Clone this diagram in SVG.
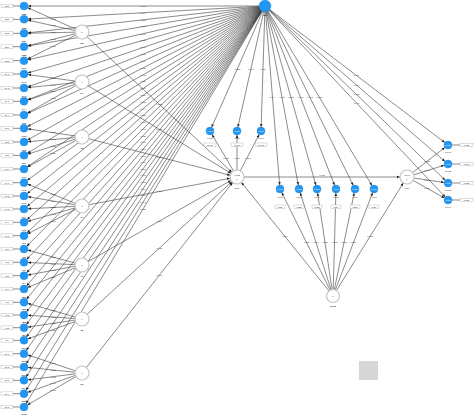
<svg xmlns="http://www.w3.org/2000/svg" width="474" height="417" viewBox="0 0 474 417">
<style>
.ln{stroke:#3c3c3c;stroke-width:0.6;fill:none}
.ind{fill:#2196f3;stroke:#1a7fd6;stroke-width:0.3}
.lat{fill:#fff;stroke:#c4c4c4;stroke-width:1.2}
.box{fill:#fff;stroke:#9e9e9e;stroke-width:0.35}
.t{font-family:"Liberation Sans",Arial,sans-serif;font-size:2.3px;fill:#333;text-anchor:middle}
.b{font-weight:bold}
.w{fill:#fff}
</style>
<defs>
<marker id="a4" markerUnits="userSpaceOnUse" markerWidth="6" markerHeight="6" refX="4" refY="0" orient="auto" overflow="visible"><path d="M-3,-1.3L0,0L-3,1.3z" fill="#222"/></marker>
<marker id="a7" markerUnits="userSpaceOnUse" markerWidth="6" markerHeight="6" refX="7" refY="0" orient="auto" overflow="visible"><path d="M-3,-1.3L0,0L-3,1.3z" fill="#222"/></marker>
</defs>
<rect width="474" height="417" fill="#fff"/>
<g id="connectors">
<g marker-end="url(#a4)" class="ln">
<line x1="265" y1="6" x2="24" y2="6"/>
<line x1="265" y1="6" x2="24" y2="19.3"/>
<line x1="265" y1="6" x2="24" y2="33.3"/>
<line x1="265" y1="6" x2="24" y2="46.7"/>
<line x1="265" y1="6" x2="24" y2="60.7"/>
<line x1="265" y1="6" x2="24" y2="74"/>
<line x1="265" y1="6" x2="24" y2="88"/>
<line x1="265" y1="6" x2="24" y2="101.3"/>
<line x1="265" y1="6" x2="24" y2="115"/>
<line x1="265" y1="6" x2="24" y2="128.3"/>
<line x1="265" y1="6" x2="24" y2="142"/>
<line x1="265" y1="6" x2="24" y2="155.3"/>
<line x1="265" y1="6" x2="24" y2="169"/>
<line x1="265" y1="6" x2="24" y2="182.7"/>
<line x1="265" y1="6" x2="24" y2="196"/>
<line x1="265" y1="6" x2="24" y2="209"/>
<line x1="265" y1="6" x2="24" y2="222.3"/>
<line x1="265" y1="6" x2="24" y2="235.7"/>
<line x1="265" y1="6" x2="24" y2="249"/>
<line x1="265" y1="6" x2="24" y2="262.3"/>
<line x1="265" y1="6" x2="24" y2="275.7"/>
<line x1="265" y1="6" x2="24" y2="289"/>
<line x1="265" y1="6" x2="24" y2="302.3"/>
<line x1="265" y1="6" x2="24" y2="315"/>
<line x1="265" y1="6" x2="24" y2="327.7"/>
<line x1="265" y1="6" x2="24" y2="340.3"/>
<line x1="265" y1="6" x2="24" y2="353.7"/>
<line x1="265" y1="6" x2="24" y2="367"/>
<line x1="265" y1="6" x2="24" y2="380.3"/>
<line x1="265" y1="6" x2="24" y2="393.7"/>
<line x1="265" y1="6" x2="24" y2="407"/>
<line x1="82" y1="32" x2="24" y2="6"/>
<line x1="82" y1="32" x2="24" y2="19.3"/>
<line x1="82" y1="32" x2="24" y2="33.3"/>
<line x1="82" y1="32" x2="24" y2="46.7"/>
<line x1="82" y1="32" x2="24" y2="60.7"/>
<line x1="82" y1="82" x2="24" y2="74"/>
<line x1="82" y1="82" x2="24" y2="88"/>
<line x1="82" y1="82" x2="24" y2="101.3"/>
<line x1="82" y1="82" x2="24" y2="115"/>
<line x1="82" y1="137" x2="24" y2="128.3"/>
<line x1="82" y1="137" x2="24" y2="142"/>
<line x1="82" y1="137" x2="24" y2="155.3"/>
<line x1="82" y1="137" x2="24" y2="169"/>
<line x1="82" y1="206" x2="24" y2="182.7"/>
<line x1="82" y1="206" x2="24" y2="196"/>
<line x1="82" y1="206" x2="24" y2="209"/>
<line x1="82" y1="206" x2="24" y2="222.3"/>
<line x1="82" y1="206" x2="24" y2="235.7"/>
<line x1="82" y1="265" x2="24" y2="249"/>
<line x1="82" y1="265" x2="24" y2="262.3"/>
<line x1="82" y1="265" x2="24" y2="275.7"/>
<line x1="82" y1="265" x2="24" y2="289"/>
<line x1="82" y1="319" x2="24" y2="302.3"/>
<line x1="82" y1="319" x2="24" y2="315"/>
<line x1="82" y1="319" x2="24" y2="327.7"/>
<line x1="82" y1="319" x2="24" y2="340.3"/>
<line x1="82" y1="373" x2="24" y2="353.7"/>
<line x1="82" y1="373" x2="24" y2="367"/>
<line x1="82" y1="373" x2="24" y2="380.3"/>
<line x1="82" y1="373" x2="24" y2="393.7"/>
<line x1="82" y1="373" x2="24" y2="407"/>
<line x1="265" y1="6" x2="210" y2="131"/>
<line x1="265" y1="6" x2="237" y2="131"/>
<line x1="265" y1="6" x2="261" y2="131"/>
<line x1="265" y1="6" x2="280" y2="189"/>
<line x1="265" y1="6" x2="299" y2="189"/>
<line x1="265" y1="6" x2="317" y2="189"/>
<line x1="265" y1="6" x2="336" y2="189"/>
<line x1="265" y1="6" x2="355" y2="189"/>
<line x1="265" y1="6" x2="374" y2="189"/>
<line x1="265" y1="6" x2="448" y2="145"/>
<line x1="265" y1="6" x2="448" y2="164"/>
<line x1="265" y1="6" x2="448" y2="183"/>
<line x1="265" y1="6" x2="448" y2="200"/>
<line x1="237" y1="177" x2="210" y2="131"/>
<line x1="237" y1="177" x2="237" y2="131"/>
<line x1="237" y1="177" x2="261" y2="131"/>
<line x1="407" y1="177" x2="448" y2="145"/>
<line x1="407" y1="177" x2="448" y2="164"/>
<line x1="407" y1="177" x2="448" y2="183"/>
<line x1="407" y1="177" x2="448" y2="200"/>
<line x1="333" y1="296" x2="280" y2="189"/>
<line x1="333" y1="296" x2="299" y2="189"/>
<line x1="333" y1="296" x2="317" y2="189"/>
<line x1="333" y1="296" x2="336" y2="189"/>
<line x1="333" y1="296" x2="355" y2="189"/>
<line x1="333" y1="296" x2="374" y2="189"/>
</g>
<g marker-end="url(#a7)" class="ln">
<line x1="82" y1="32" x2="237" y2="177"/>
<line x1="82" y1="82" x2="237" y2="177"/>
<line x1="82" y1="137" x2="237" y2="177"/>
<line x1="82" y1="206" x2="237" y2="177"/>
<line x1="82" y1="265" x2="237" y2="177"/>
<line x1="82" y1="319" x2="237" y2="177"/>
<line x1="82" y1="373" x2="237" y2="177"/>
<line x1="237" y1="177" x2="407" y2="177"/>
<line x1="333" y1="296" x2="237" y2="177"/>
<line x1="333" y1="296" x2="407" y2="177"/>
</g>
<g class="t">
<text x="143" y="6.8">0.061</text>
<text x="143" y="13.5">0.044</text>
<text x="143" y="20.6">0.052</text>
<text x="143" y="27.4">0.038</text>
<text x="143" y="34.5">0.047</text>
<text x="143" y="41.2">0.055</text>
<text x="143" y="48.3">0.041</text>
<text x="143" y="55">0.036</text>
<text x="143" y="62">0.049</text>
<text x="143" y="68.7">0.058</text>
<text x="143" y="75.6">0.043</text>
<text x="143" y="82.4">0.039</text>
<text x="143" y="89.3">0.046</text>
<text x="143" y="96.2">0.051</text>
<text x="143" y="103">0.037</text>
<text x="143" y="109.6">0.044</text>
<text x="143" y="116.3">0.053</text>
<text x="143" y="123.1">0.040</text>
<text x="143" y="129.8">0.048</text>
<text x="143" y="136.6">0.035</text>
<text x="143" y="143.3">0.042</text>
<text x="143" y="150.1">0.057</text>
<text x="143" y="156.8">0.045</text>
<text x="143" y="163.2">0.039</text>
<text x="143" y="169.6">0.050</text>
<text x="143" y="176">0.043</text>
<text x="143" y="182.8">0.036</text>
<text x="143" y="189.5">0.054</text>
<text x="143" y="196.3">0.041</text>
<text x="143" y="203.1">0.047</text>
<text x="143" y="209.8">0.038</text>
<text x="53" y="19.8">0.812</text>
<text x="53" y="26.4">0.795</text>
<text x="53" y="33.4">0.834</text>
<text x="53" y="40.1">0.801</text>
<text x="53" y="47.1">0.776</text>
<text x="53" y="78.8">0.821</text>
<text x="53" y="85.8">0.846</text>
<text x="53" y="92.4">0.809</text>
<text x="53" y="99.3">0.788</text>
<text x="53" y="133.4">0.842</text>
<text x="53" y="140.3">0.817</text>
<text x="53" y="146.9">0.803</text>
<text x="53" y="153.8">0.829</text>
<text x="53" y="195.1">0.781</text>
<text x="53" y="201.8">0.814</text>
<text x="53" y="208.3">0.837</text>
<text x="53" y="215">0.798</text>
<text x="53" y="221.6">0.806</text>
<text x="53" y="257.8">0.823</text>
<text x="53" y="264.5">0.841</text>
<text x="53" y="271.2">0.812</text>
<text x="53" y="277.8">0.794</text>
<text x="53" y="311.4">0.816</text>
<text x="53" y="317.8">0.838</text>
<text x="53" y="324.1">0.805</text>
<text x="53" y="330.5">0.787</text>
<text x="53" y="364.1">0.819</text>
<text x="53" y="370.8">0.832</text>
<text x="53" y="377.5">0.808</text>
<text x="53" y="384.2">0.796</text>
<text x="53" y="390.8">0.811</text>
<text x="159.5" y="105.3">0.162</text>
<text x="159.5" y="130.3">0.118</text>
<text x="159.5" y="157.8">0.204</text>
<text x="159.5" y="192.3">0.145</text>
<text x="159.5" y="221.8">0.097</text>
<text x="159.5" y="248.8">0.131</text>
<text x="159.5" y="275.8">0.176</text>
<text x="237.5" y="69.8">0.052</text>
<text x="251" y="69.8">0.047</text>
<text x="263" y="69.8">0.039</text>
<text x="272" y="97.8">0.044</text>
<text x="282" y="97.8">0.051</text>
<text x="291" y="97.8">0.036</text>
<text x="300.5" y="97.8">0.048</text>
<text x="310" y="97.8">0.042</text>
<text x="319.5" y="97.8">0.055</text>
<text x="356.5" y="76.3">0.041</text>
<text x="356.5" y="85.8">0.049</text>
<text x="356.5" y="95.3">0.037</text>
<text x="356.5" y="103.8">0.046</text>
<text x="226" y="159">0.873</text>
<text x="237" y="159">0.891</text>
<text x="248" y="159">0.864</text>
<text x="427" y="161.8">0.852</text>
<text x="427" y="171.3">0.879</text>
<text x="427" y="180.8">0.866</text>
<text x="427" y="189.3">0.841</text>
<text x="306.5" y="243.3">0.823</text>
<text x="316" y="243.3">0.847</text>
<text x="325" y="243.3">0.836</text>
<text x="334.5" y="243.3">0.858</text>
<text x="344" y="243.3">0.812</text>
<text x="353.5" y="243.3">0.829</text>
<text x="322" y="176.2">0.612</text>
<text x="285" y="237.3">0.214</text>
<text x="370" y="237.3">0.183</text>
</g>
</g>
<g id="nodes">
<g id="cmv"><circle class="ind" cx="265" cy="6" r="6"/><text class="t b" x="265" y="15.5">CMV</text></g>
<g id="ind-left" class="t">
<g><rect class="box" x="1" y="4.2" width="12" height="3.6"/><line class="ln" x1="13" y1="6" x2="20" y2="6"/><circle class="ind" cx="24" cy="6" r="4"/><text x="7" y="6.8">SQ1</text></g>
<g><rect class="box" x="1" y="17.5" width="12" height="3.6"/><line class="ln" x1="13" y1="19.3" x2="20" y2="19.3"/><circle class="ind" cx="24" cy="19.3" r="4"/><text x="7" y="20.1">SQ2</text><text class="b" x="24" y="14.6">SQ2</text></g>
<g><rect class="box" x="1" y="31.5" width="12" height="3.6"/><line class="ln" x1="13" y1="33.3" x2="20" y2="33.3"/><circle class="ind" cx="24" cy="33.3" r="4"/><text x="7" y="34.1">SQ3</text><text class="b" x="24" y="28.6">SQ3</text></g>
<g><rect class="box" x="1" y="44.9" width="12" height="3.6"/><line class="ln" x1="13" y1="46.7" x2="20" y2="46.7"/><circle class="ind" cx="24" cy="46.7" r="4"/><text x="7" y="47.5">SQ4</text><text class="b" x="24" y="42">SQ4</text></g>
<g><rect class="box" x="1" y="58.9" width="12" height="3.6"/><line class="ln" x1="13" y1="60.7" x2="20" y2="60.7"/><circle class="ind" cx="24" cy="60.7" r="4"/><text x="7" y="61.5">SQ5</text><text class="b" x="24" y="56">SQ5</text></g>
<g><rect class="box" x="1" y="72.2" width="12" height="3.6"/><line class="ln" x1="13" y1="74" x2="20" y2="74"/><circle class="ind" cx="24" cy="74" r="4"/><text x="7" y="74.8">SA1</text><text class="b" x="24" y="69.3">SA1</text></g>
<g><rect class="box" x="1" y="86.2" width="12" height="3.6"/><line class="ln" x1="13" y1="88" x2="20" y2="88"/><circle class="ind" cx="24" cy="88" r="4"/><text x="7" y="88.8">SA2</text><text class="b" x="24" y="83.3">SA2</text></g>
<g><rect class="box" x="1" y="99.5" width="12" height="3.6"/><line class="ln" x1="13" y1="101.3" x2="20" y2="101.3"/><circle class="ind" cx="24" cy="101.3" r="4"/><text x="7" y="102.1">SA3</text><text class="b" x="24" y="96.6">SA3</text></g>
<g><rect class="box" x="1" y="113.2" width="12" height="3.6"/><line class="ln" x1="13" y1="115" x2="20" y2="115"/><circle class="ind" cx="24" cy="115" r="4"/><text x="7" y="115.8">SA4</text><text class="b" x="24" y="110.3">SA4</text></g>
<g><rect class="box" x="1" y="126.5" width="12" height="3.6"/><line class="ln" x1="13" y1="128.3" x2="20" y2="128.3"/><circle class="ind" cx="24" cy="128.3" r="4"/><text x="7" y="129.1">TR1</text><text class="b" x="24" y="123.6">TR1</text></g>
<g><rect class="box" x="1" y="140.2" width="12" height="3.6"/><line class="ln" x1="13" y1="142" x2="20" y2="142"/><circle class="ind" cx="24" cy="142" r="4"/><text x="7" y="142.8">TR2</text><text class="b" x="24" y="137.3">TR2</text></g>
<g><rect class="box" x="1" y="153.5" width="12" height="3.6"/><line class="ln" x1="13" y1="155.3" x2="20" y2="155.3"/><circle class="ind" cx="24" cy="155.3" r="4"/><text x="7" y="156.1">TR3</text><text class="b" x="24" y="150.6">TR3</text></g>
<g><rect class="box" x="1" y="167.2" width="12" height="3.6"/><line class="ln" x1="13" y1="169" x2="20" y2="169"/><circle class="ind" cx="24" cy="169" r="4"/><text x="7" y="169.8">TR4</text><text class="b" x="24" y="164.3">TR4</text></g>
<g><rect class="box" x="1" y="180.9" width="12" height="3.6"/><line class="ln" x1="13" y1="182.7" x2="20" y2="182.7"/><circle class="ind" cx="24" cy="182.7" r="4"/><text x="7" y="183.5">PV1</text><text class="b" x="24" y="178">PV1</text></g>
<g><rect class="box" x="1" y="194.2" width="12" height="3.6"/><line class="ln" x1="13" y1="196" x2="20" y2="196"/><circle class="ind" cx="24" cy="196" r="4"/><text x="7" y="196.8">PV2</text><text class="b" x="24" y="191.3">PV2</text></g>
<g><rect class="box" x="1" y="207.2" width="12" height="3.6"/><line class="ln" x1="13" y1="209" x2="20" y2="209"/><circle class="ind" cx="24" cy="209" r="4"/><text x="7" y="209.8">PV3</text><text class="b" x="24" y="204.3">PV3</text></g>
<g><rect class="box" x="1" y="220.5" width="12" height="3.6"/><line class="ln" x1="13" y1="222.3" x2="20" y2="222.3"/><circle class="ind" cx="24" cy="222.3" r="4"/><text x="7" y="223.1">PV4</text><text class="b" x="24" y="217.6">PV4</text></g>
<g><rect class="box" x="1" y="233.9" width="12" height="3.6"/><line class="ln" x1="13" y1="235.7" x2="20" y2="235.7"/><circle class="ind" cx="24" cy="235.7" r="4"/><text x="7" y="236.5">PV5</text><text class="b" x="24" y="231">PV5</text></g>
<g><rect class="box" x="1" y="247.2" width="12" height="3.6"/><line class="ln" x1="13" y1="249" x2="20" y2="249"/><circle class="ind" cx="24" cy="249" r="4"/><text x="7" y="249.8">CI1</text><text class="b" x="24" y="244.3">CI1</text></g>
<g><rect class="box" x="1" y="260.5" width="12" height="3.6"/><line class="ln" x1="13" y1="262.3" x2="20" y2="262.3"/><circle class="ind" cx="24" cy="262.3" r="4"/><text x="7" y="263.1">CI2</text><text class="b" x="24" y="257.6">CI2</text></g>
<g><rect class="box" x="1" y="273.9" width="12" height="3.6"/><line class="ln" x1="13" y1="275.7" x2="20" y2="275.7"/><circle class="ind" cx="24" cy="275.7" r="4"/><text x="7" y="276.5">CI3</text><text class="b" x="24" y="271">CI3</text></g>
<g><rect class="box" x="1" y="287.2" width="12" height="3.6"/><line class="ln" x1="13" y1="289" x2="20" y2="289"/><circle class="ind" cx="24" cy="289" r="4"/><text x="7" y="289.8">CI4</text><text class="b" x="24" y="284.3">CI4</text></g>
<g><rect class="box" x="1" y="300.5" width="12" height="3.6"/><line class="ln" x1="13" y1="302.3" x2="20" y2="302.3"/><circle class="ind" cx="24" cy="302.3" r="4"/><text x="7" y="303.1">IM1</text><text class="b" x="24" y="297.6">IM1</text></g>
<g><rect class="box" x="1" y="313.2" width="12" height="3.6"/><line class="ln" x1="13" y1="315" x2="20" y2="315"/><circle class="ind" cx="24" cy="315" r="4"/><text x="7" y="315.8">IM2</text><text class="b" x="24" y="310.3">IM2</text></g>
<g><rect class="box" x="1" y="325.9" width="12" height="3.6"/><line class="ln" x1="13" y1="327.7" x2="20" y2="327.7"/><circle class="ind" cx="24" cy="327.7" r="4"/><text x="7" y="328.5">IM3</text><text class="b" x="24" y="323">IM3</text></g>
<g><rect class="box" x="1" y="338.5" width="12" height="3.6"/><line class="ln" x1="13" y1="340.3" x2="20" y2="340.3"/><circle class="ind" cx="24" cy="340.3" r="4"/><text x="7" y="341.1">IM4</text><text class="b" x="24" y="335.6">IM4</text></g>
<g><rect class="box" x="1" y="351.9" width="12" height="3.6"/><line class="ln" x1="13" y1="353.7" x2="20" y2="353.7"/><circle class="ind" cx="24" cy="353.7" r="4"/><text x="7" y="354.5">EX1</text><text class="b" x="24" y="349">EX1</text></g>
<g><rect class="box" x="1" y="365.2" width="12" height="3.6"/><line class="ln" x1="13" y1="367" x2="20" y2="367"/><circle class="ind" cx="24" cy="367" r="4"/><text x="7" y="367.8">EX2</text><text class="b" x="24" y="362.3">EX2</text></g>
<g><rect class="box" x="1" y="378.5" width="12" height="3.6"/><line class="ln" x1="13" y1="380.3" x2="20" y2="380.3"/><circle class="ind" cx="24" cy="380.3" r="4"/><text x="7" y="381.1">EX3</text><text class="b" x="24" y="375.6">EX3</text></g>
<g><rect class="box" x="1" y="391.9" width="12" height="3.6"/><line class="ln" x1="13" y1="393.7" x2="20" y2="393.7"/><circle class="ind" cx="24" cy="393.7" r="4"/><text x="7" y="394.5">EX4</text><text class="b" x="24" y="389">EX4</text></g>
<g><rect class="box" x="1" y="405.2" width="12" height="3.6"/><line class="ln" x1="13" y1="407" x2="20" y2="407"/><circle class="ind" cx="24" cy="407" r="4"/><text x="7" y="407.8">EX5</text><text class="b" x="24" y="402.3">EX5</text><text class="b" x="24" y="414.5">EX5</text></g>
</g>
<g id="latents-left" class="t">
<g id="SQ"><circle class="lat" cx="82" cy="32" r="7"/><text x="82" y="32.8">0</text><text class="b" x="82" y="44">SQ</text></g>
<g id="SA"><circle class="lat" cx="82" cy="82" r="7"/><text x="82" y="82.8">0</text><text class="b" x="82" y="94">SA</text></g>
<g id="TR"><circle class="lat" cx="82" cy="137" r="7"/><text x="82" y="137.8">0</text><text class="b" x="82" y="149">TR</text></g>
<g id="PV"><circle class="lat" cx="82" cy="206" r="7"/><text x="82" y="206.8">0</text><text class="b" x="82" y="218">PV</text></g>
<g id="CI"><circle class="lat" cx="82" cy="265" r="7"/><text x="82" y="265.8">0</text><text class="b" x="82" y="277">CI</text></g>
<g id="IM"><circle class="lat" cx="82" cy="319" r="7"/><text x="82" y="319.8">0</text><text class="b" x="82" y="331">IM</text></g>
<g id="EX"><circle class="lat" cx="82" cy="373" r="7"/><text x="82" y="373.8">0</text><text class="b" x="82" y="385">EX</text></g>
</g>
<g id="SAT" class="t">
<circle class="lat" cx="237" cy="177" r="7"/><text x="237" y="176">0.682</text><text x="237" y="179.5">0</text><text class="b" x="237" y="189">SAT</text>
<g><circle class="ind" cx="210" cy="131" r="4"/><text class="w" x="210" y="131.8">0.000</text><text x="210" y="139">0.124</text><rect class="box" x="204" y="143" width="12" height="3.6"/><text x="210" y="145.6">SAT1</text></g>
<g><circle class="ind" cx="237" cy="131" r="4"/><text class="w" x="237" y="131.8">0.000</text><text x="237" y="139">0.131</text><rect class="box" x="231" y="143" width="12" height="3.6"/><text x="237" y="145.6">SAT2</text></g>
<g><circle class="ind" cx="261" cy="131" r="4"/><text class="w" x="261" y="131.8">0.000</text><text x="261" y="139">0.117</text><rect class="box" x="255" y="143" width="12" height="3.6"/><text x="261" y="145.6">SAT3</text></g>
</g>
<g id="WOM" class="t">
<g><circle class="ind" cx="280" cy="189" r="4"/><text class="w" x="280" y="189.8">0.000</text><text x="280" y="198">0.108</text><rect class="box" x="275" y="205" width="10" height="3.6"/><text x="280" y="207.6">WO1</text></g>
<g><circle class="ind" cx="299" cy="189" r="4"/><text class="w" x="299" y="189.8">0.000</text><text x="299" y="198">0.112</text><rect class="box" x="294" y="205" width="10" height="3.6"/><text x="299" y="207.6">WO2</text></g>
<g><circle class="ind" cx="317" cy="189" r="4"/><text class="w" x="317" y="189.8">0.000</text><text x="317" y="198">0.109</text><rect class="box" x="312" y="205" width="10" height="3.6"/><text x="317" y="207.6">WO3</text></g>
<g><circle class="ind" cx="336" cy="189" r="4"/><text class="w" x="336" y="189.8">0.000</text><text x="336" y="198">0.115</text><rect class="box" x="331" y="205" width="10" height="3.6"/><text x="336" y="207.6">WO4</text></g>
<g><circle class="ind" cx="355" cy="189" r="4"/><text class="w" x="355" y="189.8">0.000</text><text x="355" y="198">0.106</text><rect class="box" x="350" y="205" width="10" height="3.6"/><text x="355" y="207.6">WO5</text></g>
<g><circle class="ind" cx="374" cy="189" r="4"/><text class="w" x="374" y="189.8">0.000</text><text x="374" y="198">0.111</text><rect class="box" x="369" y="205" width="10" height="3.6"/><text x="374" y="207.6">WO6</text></g>
</g>
<g id="LOY" class="t">
<circle class="lat" cx="407" cy="177" r="7"/><text x="407" y="176">0.541</text><text x="407" y="179.5">0</text><text class="b" x="407" y="189">LOY</text>
<g><circle class="ind" cx="448" cy="145" r="4"/><text class="w" x="448" y="145.8">0.000</text><text class="b" x="448" y="152.5">LOY1</text><line class="ln" x1="452" y1="145" x2="460" y2="145"/><rect class="box" x="460" y="143.2" width="13" height="3.6"/><text x="466.5" y="145.8">0.126</text></g>
<g><circle class="ind" cx="448" cy="164" r="4"/><text class="w" x="448" y="164.8">0.000</text><text class="b" x="448" y="171.5">LOY2</text><line class="ln" x1="452" y1="164" x2="460" y2="164"/><rect class="box" x="460" y="162.2" width="13" height="3.6"/><text x="466.5" y="164.8">0.119</text></g>
<g><circle class="ind" cx="448" cy="183" r="4"/><text class="w" x="448" y="183.8">0.000</text><text class="b" x="448" y="190.5">LOY3</text><line class="ln" x1="452" y1="183" x2="460" y2="183"/><rect class="box" x="460" y="181.2" width="13" height="3.6"/><text x="466.5" y="183.8">0.133</text></g>
<g><circle class="ind" cx="448" cy="200" r="4"/><text class="w" x="448" y="200.8">0.000</text><text class="b" x="448" y="207.5">LOY4</text><line class="ln" x1="452" y1="200" x2="460" y2="200"/><rect class="box" x="460" y="198.2" width="13" height="3.6"/><text x="466.5" y="200.8">0.121</text></g>
</g>
<g id="MOD" class="t"><circle class="lat" cx="333" cy="296" r="6.5"/><text x="333" y="296.8">0</text><text class="b" x="333" y="307">WOM</text></g>
</g>
<rect x="359" y="361" width="19" height="19" fill="#d6d6d6"/>
</svg>
